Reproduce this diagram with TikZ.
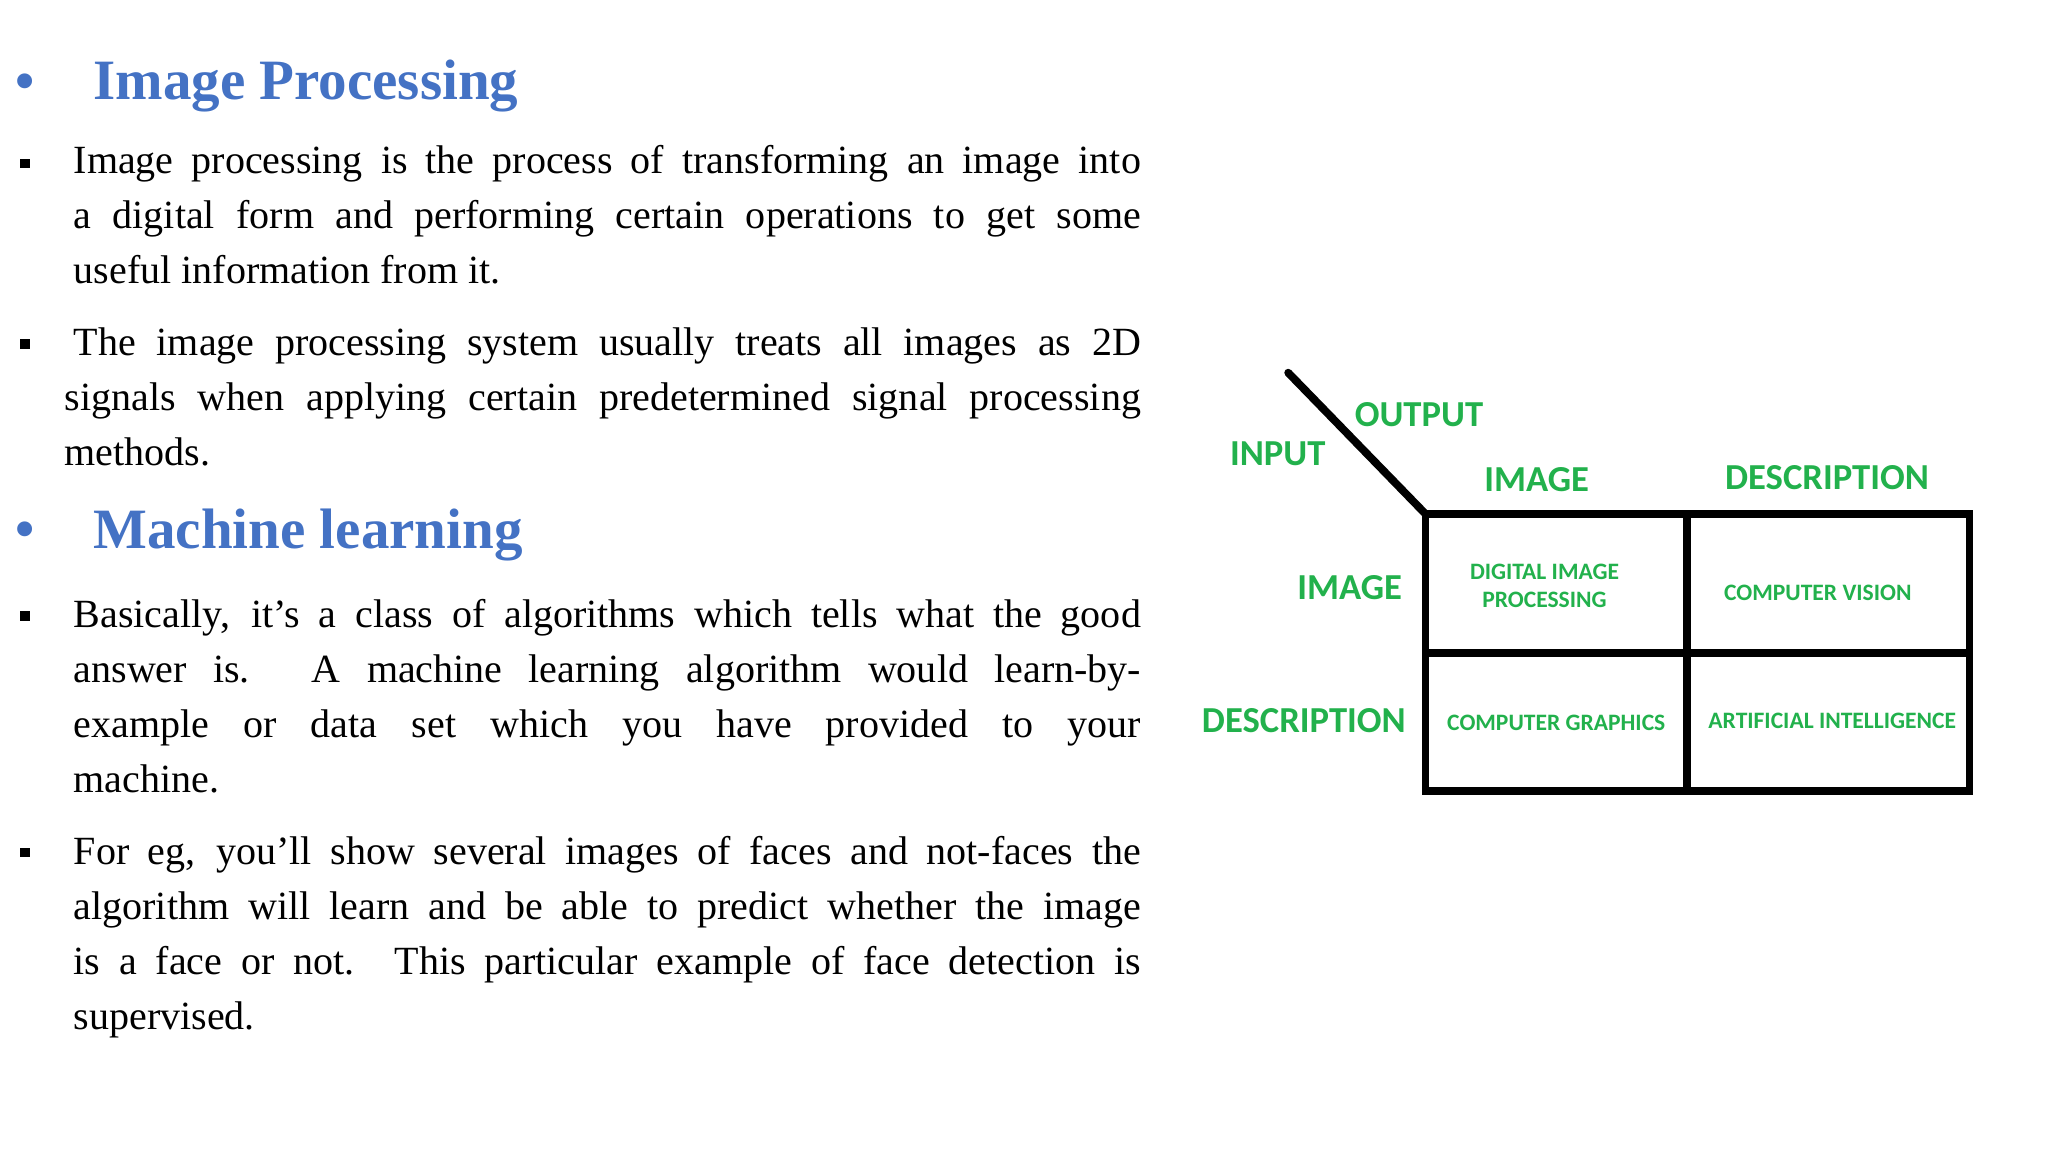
\documentclass[tikz,border=0pt]{standalone}
\usepackage{fontspec}
\setmainfont{Liberation Serif}
\newfontfamily\lblfont{Carlito}
\definecolor{hblue}{HTML}{4472C4}
\definecolor{pgreen}{HTML}{22B14C}
\begin{document}
\begin{tikzpicture}[x=0.5pt,y=-0.5pt,
  body/.style={anchor=north west,inner sep=0pt,text width=408pt,align=justify,font=\fontsize{15.3}{21}\selectfont},
  head/.style={anchor=west,inner sep=0pt,text=hblue,font=\fontsize{21.8}{25}\selectfont\bfseries},
  dot/.style={anchor=center,inner sep=0pt,text=hblue,font=\fontsize{21}{25}\selectfont\bfseries},
  sq/.style={fill=black,inner sep=0pt,minimum size=3.6pt},
  glab/.style={text=pgreen,inner sep=0pt,font=\lblfont\fontsize{14}{15}\selectfont\bfseries},
  gcell/.style={text=pgreen,inner sep=0pt,align=center,font=\lblfont\fontsize{9}{10.5}\selectfont\bfseries},
  grid/.style={line width=3pt,black}]
\useasboundingbox (0,0) rectangle (1566,881);
% left text
\node[dot] (d1) at (19,66) {•};
\node[head] (h1) at (71,66) {Image Processing};
\node[sq] (s1) at (19,125) {};
\node[body] (p1) at (56,111) {Image processing is the process of transforming an image into\linebreak a digital form and performing certain operations to get some\linebreak useful information from it.};
\node[sq] (s2) at (19,263) {};
\node[body,text width=411.5pt] (p2) at (49,250) {\hspace*{3.5pt}The image processing system usually treats all images as 2D\linebreak signals when applying certain predetermined signal processing\linebreak methods.};
\node[dot] (d2) at (19,409) {•};
\node[head] (h2) at (71,409) {Machine learning};
\node[sq] (s3) at (19,471) {};
\node[body] (p3) at (56,458) {Basically, it’s a class of algorithms which tells what the good\linebreak answer is. A machine learning algorithm would learn-by-\linebreak example or data set which you have provided to your\linebreak machine.};
\node[sq] (s4) at (19,652) {};
\node[body] (p4) at (56,639) {For eg, you’ll show several images of faces and not-faces the\linebreak algorithm will learn and be able to predict whether the image\linebreak is a face or not. This particular example of face detection is\linebreak supervised.};
% table
\coordinate (tl) at (1090,393);
\coordinate (tr) at (1506,393);
\coordinate (bl) at (1090,605);
\coordinate (br) at (1506,605);
\coordinate (ml) at (1090,499);
\coordinate (mr) at (1508,499);
\coordinate (mt) at (1290,393);
\coordinate (mb) at (1290,607);
\coordinate (dg) at (985,285);
\draw[grid] (tl) -- (tr) -- (br) -- (bl) -- cycle;
\draw[grid] (ml) -- (mr);
\draw[grid] (mt) -- (mb);
\draw[grid,line cap=round] (dg) -- (tl);
\node[glab] (out) at (1085,317) {OUTPUT};
\node[glab] (inp) at (977,347) {INPUT};
\node[glab] (ci) at (1175,367) {IMAGE};
\node[glab] (cd) at (1397,365) {DESCRIPTION};
\node[glab] (ri) at (1032,449) {IMAGE};
\node[glab] (rd) at (997,551) {DESCRIPTION};
\node[gcell] (c11) at (1181,448) {DIGITAL IMAGE\\PROCESSING};
\node[gcell] (c12) at (1390,453) {COMPUTER VISION};
\node[gcell] (c21) at (1190,553) {COMPUTER GRAPHICS};
\node[gcell] (c22) at (1401,551) {ARTIFICIAL INTELLIGENCE};
\end{tikzpicture}
\end{document}
